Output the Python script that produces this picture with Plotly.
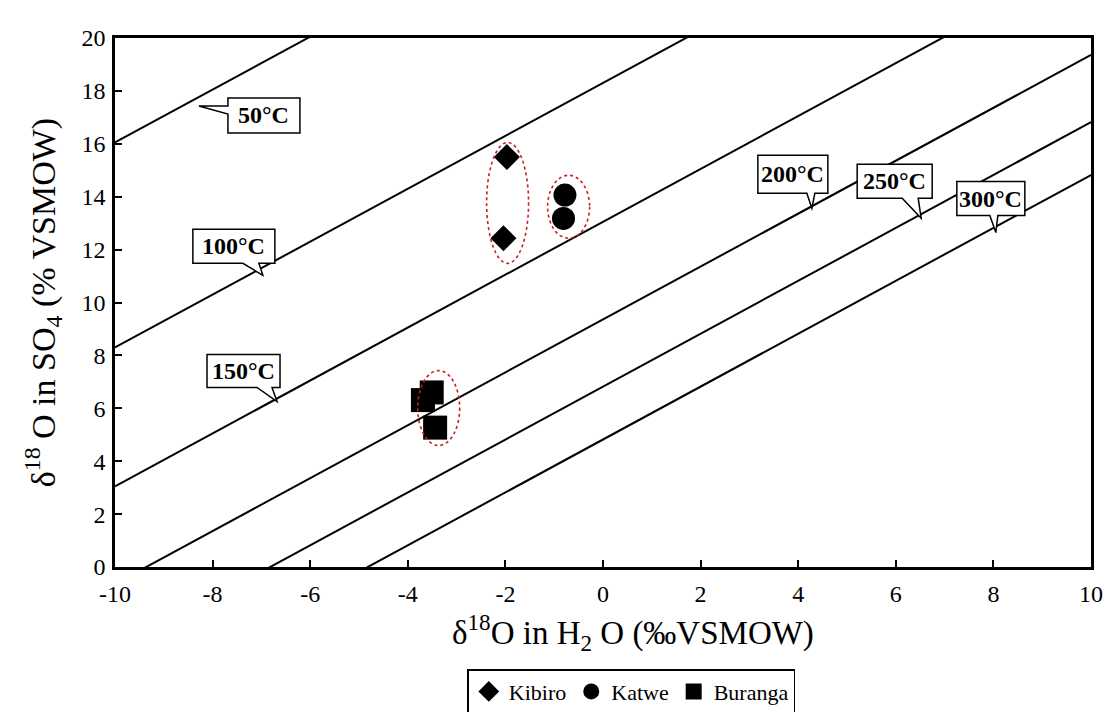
import plotly.graph_objects as go

# ---------------------------------------------------------------------------
# Données
# ---------------------------------------------------------------------------
temperatures = [50, 100, 150, 200, 250, 300]                 # isothermes (°C)
isotherm_offset = [26.05, 18.3, 13.05, 9.36, 6.82, 4.82]    # δ18O(SO4) - δ18O(H2O)
label_x = [-8.28, -6.97, -6.68, 4.28, 6.52, 8.05]            # où pointe chaque bulle

kibiro_x = [-1.97, -2.04]
kibiro_y = [15.50, 12.43]
katwe_x = [-0.78, -0.81]
katwe_y = [14.06, 13.18]
buranga_x = [-3.69, -3.51, -3.44]
buranga_y = [6.31, 6.60, 5.27]

x_ticks = [-10, -8, -6, -4, -2, 0, 2, 4, 6, 8, 10]
y_ticks = [0, 2, 4, 6, 8, 10, 12, 14, 16, 18, 20]

FONT = "Times New Roman, Liberation Serif, serif"
RED = "rgb(205,30,35)"

# géométrie des bulles (px écran, relatif à la pointe) : L, R, T, B, base1, base2, chute, côté
BULLES = {
    50: (29, 101, -8, 27, 0, 8, 9, "left"),
    100: (-70, 12, -46, -12, -20, -4, 8, "bottom"),
    150: (-70, 3, -47, -14, -20, -5, 3, "bottom"),
    200: (-54, 16, -53, -15, -5, 3, 2, "bottom"),
    250: (-64, 11, -54, -20, -19, -3, 4, "bottom"),
    300: (-39, 29, -51, -17, -6, 2, 6, "bottom"),
}


def chemin_bulle(L, R, T, B, b1, b2, d, cote):
    if cote == "left":
        pts = [(L, T), (R, T), (R, B), (L, B), (L, b2), (0, 0), (L, b1)]
    else:
        pts = [(L, T), (R, T), (R, B), (b2, B), (0, 0), (b1, B), (L, B)]
    # y écran (vers le bas) -> y pixel plotly (vers le haut)
    pts = [(x, -(y + d)) for x, y in pts]
    return "M " + " L ".join(f"{x},{y}" for x, y in pts) + " Z"


fig = go.Figure()

# isothermes
for t, c in zip(temperatures, isotherm_offset):
    xs = [x_ticks[0], x_ticks[-1]]
    fig.add_trace(go.Scatter(x=xs, y=[x + c for x in xs], mode="lines",
                             line=dict(color="black", width=2),
                             showlegend=False, hoverinfo="skip"))

# points
fig.add_trace(go.Scatter(x=kibiro_x, y=kibiro_y, mode="markers", name="Kibiro",
                         marker=dict(symbol="diamond", size=20, color="black")))
fig.add_trace(go.Scatter(x=katwe_x, y=katwe_y, mode="markers", name="Katwe",
                         marker=dict(symbol="circle", size=23, color="black")))
fig.add_trace(go.Scatter(x=buranga_x, y=buranga_y, mode="markers", name="Buranga",
                         marker=dict(symbol="square", size=24, color="black")))

# ellipses rouges pointillées autour de chaque groupe (décalage dx, dy à l'oeil)
for gx, gy, dx, dy in [(kibiro_x, kibiro_y, 0.05, -0.2), (katwe_x, katwe_y, 0.09, 0.0),
                       (buranga_x, buranga_y, 0.18, -0.05)]:
    cx = sum(gx) / len(gx) + dx
    cy = sum(gy) / len(gy) + dy
    rx = 0.43
    ry = (max(gy) - min(gy)) / 2 + 0.75
    fig.add_shape(type="circle", xref="x", yref="y",
                  x0=cx - rx, x1=cx + rx, y0=cy - ry, y1=cy + ry,
                  line=dict(color=RED, width=1.6, dash="dot"), layer="above")

# étiquettes en bulle
for t, c, lx in zip(temperatures, isotherm_offset, label_x):
    L, R, T, B, b1, b2, d, cote = BULLES[t]
    ly = lx + c
    fig.add_shape(type="path", xref="x", yref="y", xsizemode="pixel", ysizemode="pixel",
                  xanchor=lx, yanchor=ly, path=chemin_bulle(L, R, T, B, b1, b2, d, cote),
                  fillcolor="white", line=dict(color="black", width=1.5), layer="above")
    fig.add_annotation(x=lx, y=ly, xref="x", yref="y", text=f"<b>{t}°C</b>",
                       showarrow=False, xanchor="center", yanchor="middle",
                       xshift=(L + R) / 2, yshift=-((T + B) / 2 + d),
                       font=dict(family=FONT, size=24, color="black"))

# titres d'axes
fig.add_annotation(text="δ<sup>18</sup>O in H<sub>2</sub> O (‰VSMOW)",
                   xref="paper", yref="paper", x=0.531, y=-0.123,
                   xanchor="center", yanchor="middle", showarrow=False,
                   font=dict(family=FONT, size=33, color="black"))
fig.add_annotation(text="δ<sup>18</sup> O in SO<sub>4</sub> (% VSMOW)",
                   xref="paper", yref="paper", x=-0.074, y=0.5, textangle=-90,
                   xanchor="center", yanchor="middle", showarrow=False,
                   font=dict(family=FONT, size=34, color="black"))

axe = dict(showgrid=False, zeroline=False, showline=True, linecolor="black",
           linewidth=2.5, mirror=True, ticks="inside", ticklen=7, tickwidth=1.5,
           tickcolor="black", tickfont=dict(family=FONT, size=24, color="black"))
fig.update_xaxes(range=[-10, 10], tickvals=x_ticks, ticklabelstandoff=3,
                 ticktext=[str(v) for v in x_ticks], **axe)
fig.update_yaxes(range=[0, 20], tickvals=y_ticks, ticklabelstandoff=2,
                 ticktext=[str(v) for v in y_ticks], **axe)

# la page a une marge de 8 px : la figure est réduite d'autant
fig.update_layout(
    width=1096, height=704,
    paper_bgcolor="white", plot_bgcolor="white",
    margin=dict(l=107, r=13, t=30, b=145, autoexpand=False),
    font=dict(family=FONT, color="black"),
    showlegend=True,
    legend=dict(orientation="h", x=0.529, xanchor="center", y=-0.193, yanchor="top",
                bordercolor="black", borderwidth=1.5, bgcolor="white",
                font=dict(family=FONT, size=22, color="black"),
                itemwidth=30),
)

fig.write_html("out.html")
